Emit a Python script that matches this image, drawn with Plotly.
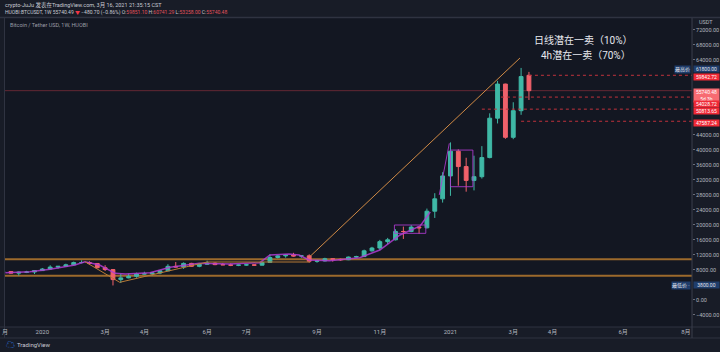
import pandas as pd
import plotly.graph_objects as go

W, H = 720, 352
L, R, T, B = 5, 28, 18, 25

# ---------------- data ----------------
week_start = "2019-12-02"
opens = [7400, 7510, 7080, 7320, 7380, 7760, 8180, 8700, 8900, 9300, 9900, 9920, 9660, 8530, 8040,
         5360, 5820, 6240, 6860, 6900, 7120, 7700, 8900, 8720, 9680, 8900, 9450, 9750, 9350, 9300,
         9180, 9250, 9300, 9200, 9950, 11250, 11690, 11900, 11660, 11700, 10250, 10330, 10920, 10780,
         10660, 11370, 11500, 13030, 13780, 15480, 15970, 18200, 18180, 19360, 19170, 23600, 26900,
         33000, 39600, 35500, 31800, 32800, 37900, 48400, 57500, 43300, 50400, 59842.72]
highs = [7750, 7650, 7520, 7700, 7800, 8460, 9190, 8980, 9600, 10160, 10500, 10250, 9700, 9200, 8170,
         6900, 6980, 7200, 7470, 7300, 7780, 9470, 10050, 9950, 9840, 9750, 10400, 9970, 9800, 9700,
         9350, 9450, 9350, 10100, 12100, 11900, 12100, 12500, 11800, 12100, 10600, 11180, 10950, 10950,
         11500, 11720, 13350, 14100, 15950, 16480, 18800, 19500, 19900, 19400, 24300, 28400, 34000,
         41950, 40100, 37850, 38400, 40950, 49700, 58350, 57600, 52650, 61800, 60741.29]
lows = [7250, 6960, 6430, 7100, 6850, 7700, 8100, 8250, 8850, 9150, 9700, 9300, 8400, 7650, 3800,
        4450, 5700, 5860, 6750, 6460, 6800, 7650, 8600, 8200, 8800, 8650, 9300, 9200, 9250, 8950,
        8950, 9100, 9050, 9150, 9950, 11000, 11200, 11500, 11150, 9900, 9850, 10200, 10150, 10370,
        10550, 11200, 11400, 12800, 13200, 14800, 15800, 16200, 18000, 17600, 19000, 21800, 25900,
        27700, 30400, 28800, 29150, 32300, 37700, 47000, 42900, 42800, 49300, 53258]
closes = [7510, 7080, 7320, 7380, 7760, 8180, 8700, 8900, 9300, 9900, 9920, 9660, 8530, 8040, 5360,
          5820, 6240, 6860, 6900, 7120, 7700, 8900, 8720, 9680, 8900, 9450, 9750, 9350, 9300, 9180,
          9250, 9300, 9200, 9950, 11250, 11690, 11900, 11660, 11700, 10250, 10330, 10920, 10780, 10660,
          11370, 11500, 13030, 13780, 15480, 15970, 18200, 18180, 19360, 19170, 23600, 26900, 33000,
          39600, 35500, 31800, 32800, 37900, 48400, 57500, 43300, 50400, 59500, 55740.48]
dates = pd.date_range(week_start, periods=len(opens), freq="7D")

# labels hidden by price boxes in the reference are left out
y_ticks = [-4000, 0, 8000, 12000, 16000, 20000, 24000, 28000, 32000, 36000, 40000, 44000,
           64000, 68000, 72000]
x_tick_dates = ["2020-01-06", "2020-03-02", "2020-04-06", "2020-06-01", "2020-07-06", "2020-09-07",
                "2020-11-02", "2021-01-04", "2021-03-01", "2021-04-05", "2021-06-07", "2021-08-02"]
x_tick_text = ["2020", "3月", "4月", "6月", "7月", "9月", "11月", "2021", "3月", "4月", "6月", "8月"]

# drawings (trend lines / levels)
support_levels = [10770, 6400]
trend_dates = ["2020-09-01", "2021-03-07"]
trend_vals = [11600, 64450]
crash_dates = ["2020-02-13", "2020-03-15", "2020-06-01", "2020-09-01"]
crash_vals = [10130, 4640, 10050, 10050]
purple_dates = ["2019-12-04", "2019-12-26", "2020-01-13", "2020-02-04", "2020-02-13", "2020-02-26",
                "2020-03-11", "2020-03-20", "2020-04-11", "2020-04-29", "2020-05-25", "2020-06-21",
                "2020-07-18", "2020-07-27", "2020-08-13", "2020-08-22", "2020-08-31", "2020-09-18",
                "2020-10-15", "2020-11-02", "2020-11-20", "2020-12-08", "2020-12-17"]
purple_vals = [7200, 7470, 8100, 9250, 10130, 9250, 7040, 6850, 7200, 8640, 9700, 9520, 9870, 11920,
               12190, 11920, 10590, 10400, 11200, 13250, 17250, 19650, 23400]
purple2_dates = ["2020-12-25", "2021-01-03"]
purple2_vals = [27930, 41700]
boxes = [("2021-01-04", "2021-01-24", 30130, 39900), ("2020-11-15", "2020-12-13", 17700, 19920)]
red_levels = [59842.72, 54028.72, 50813.65, 47587.24]
red_level_start = ["2021-03-15", "2021-02-18", "2021-02-01", "2021-03-08"]
last_price = 55740.48

GREEN = "#3fb8a6"
RED = "#f0616b"

fig = go.Figure()
fig.add_trace(go.Scatter(x=purple_dates, y=purple_vals, mode="lines",
                         line=dict(color="rgba(176,60,210,0.85)", width=1.5), hoverinfo="skip"))
fig.add_trace(go.Scatter(x=purple2_dates, y=purple2_vals, mode="lines",
                         line=dict(color="rgba(176,60,210,0.85)", width=1), hoverinfo="skip"))
fig.add_trace(go.Candlestick(x=dates, open=opens, high=highs, low=lows, close=closes,
                             increasing=dict(line=dict(color=GREEN, width=1), fillcolor=GREEN),
                             decreasing=dict(line=dict(color=RED, width=1), fillcolor=RED),
                             whiskerwidth=0))
fig.add_trace(go.Scatter(x=trend_dates, y=trend_vals, mode="lines",
                         line=dict(color="#d08a45", width=1), hoverinfo="skip"))
fig.add_trace(go.Scatter(x=crash_dates, y=crash_vals, mode="lines",
                         line=dict(color="#b87a35", width=1), hoverinfo="skip"))

shapes = []
for v in support_levels:
    shapes.append(dict(type="line", xref="paper", x0=0, x1=1, yref="y", y0=v, y1=v,
                       line=dict(color="#9c6a2c", width=2), layer="below"))
for x0, x1, y0, y1 in boxes:
    shapes.append(dict(type="rect", xref="x", yref="y", x0=x0, x1=x1, y0=y0, y1=y1,
                       line=dict(color="rgba(176,60,210,0.85)", width=1)))
shapes.append(dict(type="line", xref="paper", x0=0, x1=1, yref="y", y0=last_price, y1=last_price,
                   line=dict(color="rgba(200,60,70,0.45)", width=1), layer="below"))
for v, s in zip(red_levels, red_level_start):
    shapes.append(dict(type="line", xref="x", x0=s, x1="2021-08-08", yref="y", y0=v, y1=v,
                       line=dict(color="#c0323c", width=1, dash="dot")))


def px(x):
    return (x - L) / (W - L - R)


def py(y):
    return (H - B - y) / (H - T - B)


# frame / separators
shapes += [
    dict(type="line", xref="paper", yref="paper", x0=px(0), x1=px(720), y0=py(17.5), y1=py(17.5),
         line=dict(color="#2f3341", width=1.5)),
    dict(type="line", xref="paper", yref="paper", x0=px(0), x1=px(720), y0=py(327), y1=py(327),
         line=dict(color="#2f3341", width=1)),
    dict(type="line", xref="paper", yref="paper", x0=px(0), x1=px(720), y0=py(338), y1=py(338),
         line=dict(color="#2f3341", width=1)),
    dict(type="line", xref="paper", yref="paper", x0=px(692), x1=px(692), y0=py(18), y1=py(338),
         line=dict(color="#3a3e4c", width=1)),
    dict(type="line", xref="paper", yref="paper", x0=px(4.5), x1=px(4.5), y0=py(18), y1=py(338),
         line=dict(color="#2f3341", width=1)),
]

FONT = "Roboto, Noto Sans CJK SC, sans-serif"
ann = []


def text(x, y, s, size=6, color="#b2b5be", xa="left", ya="middle", **kw):
    ann.append(dict(x=px(x), y=py(y), xref="paper", yref="paper", text=s, showarrow=False,
                    xanchor=xa, yanchor=ya, font=dict(size=size, color=color, family=FONT), **kw))


red = "#e0515b"
text(3, 4.5, "crypto-JuJu 发表在TradingView.com, 3月 16, 2021 21:35:15 CST", size=5.5, color="#c8cbd3")
text(3, 12, "HUOBI:BTCUSDT, 1W 55740.49 <span style='color:#f23645'>▼</span> −480.70 (−0.86%) "
     f"O:<span style='color:{red}'>59851.10</span> H:<span style='color:{red}'>60741.29</span> "
     f"L:<span style='color:{red}'>53258.00</span> C:<span style='color:{red}'>55740.48</span>",
     size=5, color="#c8cbd3")
text(8, 24.5, "Bitcoin / Tether USD, 1W, HUOBI", size=5.5, color="#9a9da6")
text(583, 40, "日线潜在一卖（10%）", size=10, color="#e6e8ee", xa="center")
text(585.5, 55, "4h潜在一卖（70%）", size=10, color="#e6e8ee", xa="center")
text(706, 22, "USDT", size=5.5, color="#b2b5be", xa="center")

BLUE = "#1f3d6b"
text(691, 69, "最高价", size=5, color="#e0e3eb", xa="right", bgcolor=BLUE, borderpad=0)
text(693, 69, "61800.00", size=5, color="#e0e3eb", bgcolor=BLUE, borderpad=0, width=25)
text(691, 285, "最低价 ·", size=5, color="#e0e3eb", xa="right", bgcolor=BLUE, borderpad=0)
text(693, 285, "3800.00", size=5, color="#e0e3eb", bgcolor=BLUE, borderpad=0, width=25)
text(693, 77, "59842.72", size=5, color="#ffffff", bgcolor="#f02a37", borderpad=0, width=25)
text(693, 95, "55740.48<br>5d 3h", size=5, color="#ffffff", bgcolor="#f76b72", borderpad=0, width=25)
text(693, 104.5, "54028.72", size=5, color="#ffffff", bgcolor="#f02a37", borderpad=0, width=25)
text(693, 111, "50813.65", size=5, color="#ffffff", bgcolor="#f02a37", borderpad=0, width=25)
text(693, 122.7, "47587.24", size=5, color="#ffffff", bgcolor="#f02a37", borderpad=0, width=25)

text(5, 332, "月", size=6, color="#b2b5be", xa="center")
text(4, 344.5, "☁", size=9, color="#2f80ed")
text(15, 344.5, "TradingView", size=6, color="#c8cbd3")

fig.update_layout(
    width=W, height=H, margin=dict(l=L, r=R, t=T, b=B, autoexpand=False),
    paper_bgcolor="#181c27", plot_bgcolor="#131722",
    showlegend=False, shapes=shapes, annotations=ann,
    font=dict(family=FONT, color="#b2b5be"),
    xaxis=dict(type="date", range=["2019-12-03 17:00", "2021-08-07 10:00"],
               tickvals=x_tick_dates, ticktext=x_tick_text, tickfont=dict(size=6),
               showgrid=False, zeroline=False, rangeslider=dict(visible=False),
               ticks="", showline=False, automargin=False),
    yaxis=dict(side="right", range=[-7280, 75120], tickvals=y_ticks, tickformat=".2f",
               tickfont=dict(size=5.5), showgrid=False, zeroline=False, ticks="outside",
               ticklen=2, tickcolor="#6a6d78", showline=False, automargin=False),
)

fig.write_html("out.html")
